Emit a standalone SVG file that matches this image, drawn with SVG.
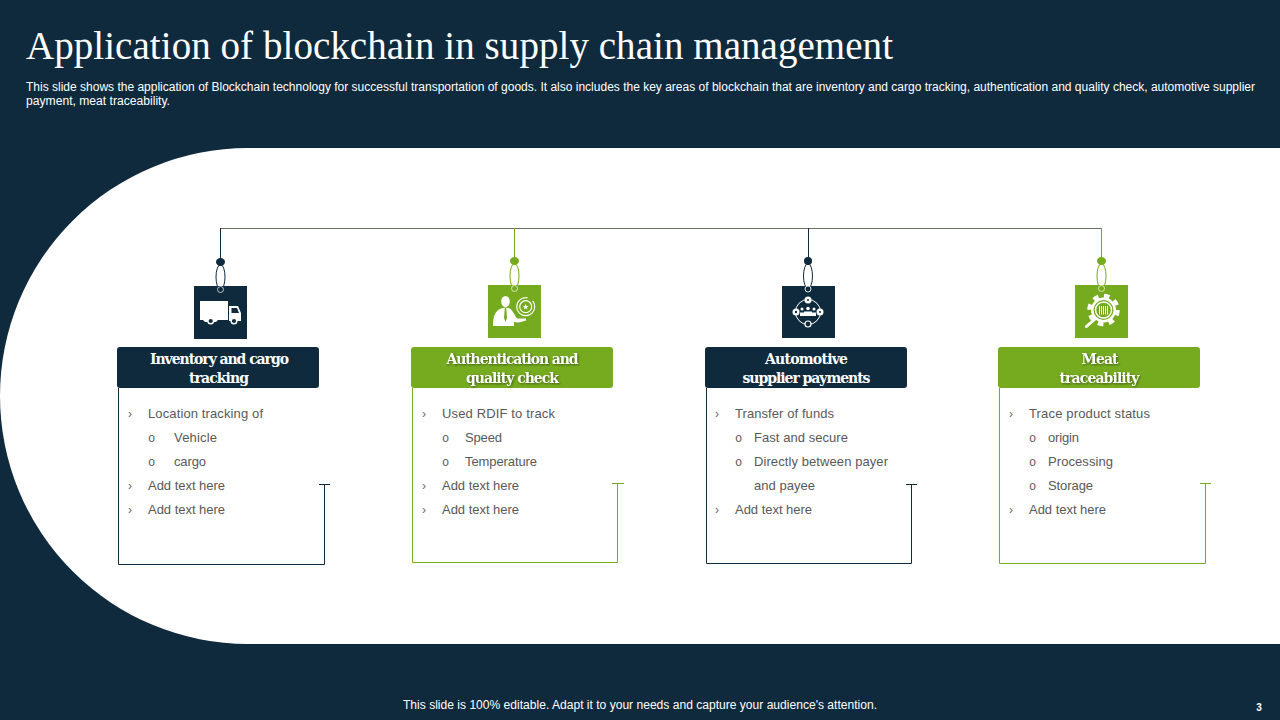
<svg xmlns="http://www.w3.org/2000/svg" width="1280" height="720" viewBox="0 0 1280 720">
<style>
.title{font:39px "Liberation Serif",serif;fill:#fff}
.desc{font:12px "Liberation Sans",Arial,sans-serif;fill:#fff}
.head{font:bold 14px "DejaVu Serif",serif;fill:#fff;text-anchor:middle}
.gh{filter:drop-shadow(1px 1px 1px rgba(0,0,0,.45))}
.b{font:13px "Liberation Sans",Arial,sans-serif;fill:#595959}
.m{font:12px "Liberation Sans",Arial,sans-serif;fill:#6a6a6a}
.o{font:12px "Liberation Mono",monospace;fill:#595959}
.navy{fill:#102a3d}.green{fill:#76ab1f}
.ln{fill:none;stroke-width:1}
.sn{stroke:#102a3d}.sg{stroke:#76ab1f}
.w{fill:#fff}.ws{fill:none;stroke:#fff}
</style>
<rect width="1280" height="720" fill="#102a3d"/>
<path d="M1280 148H248A248 248 0 0 0 248 644H1280Z" fill="#fff"/>
<text class="title" x="26" y="59" textLength="867" lengthAdjust="spacing">Application of blockchain in supply chain management</text>
<text class="desc" x="26" y="91" textLength="1229" lengthAdjust="spacingAndGlyphs">This slide shows the application of Blockchain technology for successful transportation of goods. It also includes the key areas of blockchain that are inventory and cargo tracking, authentication and quality check, automotive supplier</text>
<text class="desc" x="26" y="105" textLength="144" lengthAdjust="spacingAndGlyphs">payment, meat traceability.</text>

<g id="connectors">
<path d="M220.500 228.500H1101.500" fill="none" stroke="#66705c" stroke-width="1"/>
<path d="M220.500 228V262M808.500 228V261" class="ln sn"/>
<path d="M514.500 228V261M1101.500 228V261" class="ln sg"/>
</g>

<g id="node-inventory">
<rect class="navy" x="194" y="286" width="53" height="53"/>
<ellipse class="navy" cx="220.500" cy="262" rx="4.500" ry="4"/>
<ellipse class="ln sn" cx="220.500" cy="277" rx="4.500" ry="12.500"/>
<circle cx="220.500" cy="289.500" r="3" fill="none" stroke="#b8c4cc"/>
<path class="w" d="M200 301H228V320H218L216 322H205L203 320H200Z"/>
<path class="w" d="M229 306H238L241 313V321H229Z"/>
<path class="navy" d="M231.500 308H237L239 313H231.500Z"/>
<circle cx="210.700" cy="321" r="2.800" fill="#102a3d" stroke="#fff" stroke-width="1.400"/><circle cx="234" cy="321" r="2.800" fill="#102a3d" stroke="#fff" stroke-width="1.400"/>
<rect class="navy" x="117" y="347" width="202" height="41" rx="3"/>
<text class="head" x="219.500" y="364" textLength="139">Inventory and cargo</text>
<text class="head" x="219" y="383" textLength="60">tracking</text>
<path class="ln sn" d="M118.500 388V564.500H324.500V484.500M319 484.500H330"/>
<text class="m" x="128" y="418">›</text><text class="b" x="148" y="418" textLength="115">Location tracking of</text>
<text class="o" x="148" y="442">o</text><text class="b" x="174" y="442" textLength="43">Vehicle</text>
<text class="o" x="148" y="466">o</text><text class="b" x="174" y="466" textLength="32">cargo</text>
<text class="m" x="128" y="490">›</text><text class="b" x="148" y="490" textLength="77">Add text here</text>
<text class="m" x="128" y="514">›</text><text class="b" x="148" y="514" textLength="77">Add text here</text>
</g>

<g id="node-authentication">
<rect class="green" x="488" y="285" width="53" height="53"/>
<ellipse class="green" cx="514.500" cy="261" rx="4.500" ry="4"/>
<ellipse class="ln sg" cx="514.500" cy="276" rx="4.500" ry="12.500"/>
<circle cx="514.500" cy="288.500" r="3" fill="#76ab1f" stroke="#d6e6b8"/>
<ellipse class="w" cx="505.500" cy="301.500" rx="4.300" ry="5.500"/>
<path class="w" d="M493 326C493 316 495 311 501 308.500L505.500 307.500L510 308.500C513 311 515 316 517 318.500H526V320.500C521 322.500 517 323 514 322V326Z"/>
<path class="green" d="M504.800 308H506.200L507 318L505.500 322L504 318Z"/>
<circle class="ws" cx="525.700" cy="306.700" r="9" stroke-width="1.200" stroke-dasharray="44 6"/>
<circle class="ws" cx="525.700" cy="306.700" r="6" stroke-width="1.200"/>
<path class="w" d="M525.700 303.700L526.500 305.900H528.700L527 307.300L527.600 309.500L525.700 308.200L523.800 309.500L524.400 307.300L522.700 305.900H524.900Z"/>
<rect class="green" x="411" y="347" width="202" height="41" rx="3"/>
<text class="head gh" x="512.500" y="364" textLength="132">Authentication and</text>
<text class="head gh" x="512.500" y="383" textLength="93">quality check</text>
<path class="ln sg" d="M412.500 388V562.500H617.500V483.500M612 483.500H624"/>
<text class="m" x="422" y="418">›</text><text class="b" x="442" y="418" textLength="113">Used RDIF to track</text>
<text class="o" x="442" y="442">o</text><text class="b" x="465" y="442" textLength="37">Speed</text>
<text class="o" x="442" y="466">o</text><text class="b" x="465" y="466" textLength="72">Temperature</text>
<text class="m" x="422" y="490">›</text><text class="b" x="442" y="490" textLength="77">Add text here</text>
<text class="m" x="422" y="514">›</text><text class="b" x="442" y="514" textLength="77">Add text here</text>
</g>

<g id="node-automotive">
<rect class="navy" x="782" y="286" width="53" height="52"/>
<ellipse class="navy" cx="808" cy="261" rx="4" ry="4"/>
<ellipse class="ln sn" cx="808" cy="276" rx="4.500" ry="12.500"/>
<circle cx="808" cy="289" r="3" fill="none" stroke="#dfe5e9"/>
<circle class="ws" cx="808" cy="312" r="12.500" stroke-width="1"/>
<circle cx="808" cy="300" r="3.500" fill="#fff"/><circle cx="796" cy="312" r="3.500" fill="#fff"/><circle cx="820" cy="312" r="3.500" fill="#fff"/>
<circle class="navy" cx="808" cy="300" r="1"/><circle class="navy" cx="796" cy="312" r="1.200"/><circle class="navy" cx="820" cy="312" r="1"/>
<circle cx="808" cy="324" r="3" fill="#102a3d" stroke="#fff" stroke-width="1.200"/>
<circle class="w" cx="802" cy="309" r="1.500"/><circle class="w" cx="808" cy="308.500" r="1.800"/><circle class="w" cx="814" cy="309" r="1.500"/>
<path class="w" d="M800 316V312.500H804V311.500H812V312.500H816V316Z"/>
<rect class="navy" x="705" y="347" width="202" height="41" rx="3"/>
<text class="head" x="806.500" y="364" textLength="83">Automotive</text>
<text class="head" x="806.500" y="383" textLength="128">supplier payments</text>
<path class="ln sn" d="M706.500 388V563.500H911.500V484.500M906 484.500H917"/>
<text class="m" x="715" y="418">›</text><text class="b" x="735" y="418" textLength="99">Transfer of funds</text>
<text class="o" x="735" y="442">o</text><text class="b" x="754" y="442" textLength="94">Fast and secure</text>
<text class="o" x="735" y="466">o</text><text class="b" x="754" y="466" textLength="134">Directly between payer</text>
<text class="b" x="754" y="490" textLength="61">and payee</text>
<text class="m" x="715" y="514">›</text><text class="b" x="735" y="514" textLength="77">Add text here</text>
</g>

<g id="node-meat">
<rect class="green" x="1075" y="285" width="53" height="53"/>
<ellipse class="green" cx="1101.500" cy="261" rx="4.500" ry="4"/>
<ellipse class="ln sg" cx="1101.500" cy="276" rx="4.500" ry="12.500"/>
<circle cx="1101.500" cy="288.500" r="3" fill="#76ab1f" stroke="#d6e6b8"/>
<circle cx="1103.500" cy="310" r="14" fill="none" stroke="#fff" stroke-width="4.500" stroke-dasharray="5.500 5.500"/>
<circle cx="1103.500" cy="310" r="12.500" fill="#fff"/>
<circle class="green" cx="1103.500" cy="310" r="10"/>
<circle class="ws" cx="1103.500" cy="310" r="8" stroke-width="1.500"/>
<path d="M1099.500 306V314.500M1101.500 306V314.500M1103.500 306V314.500M1105.500 306V314.500M1107.500 306V314.500" stroke="#fff" fill="none"/>
<path d="M1095 319L1086.500 326.500" stroke="#fff" stroke-width="3" stroke-linecap="round"/>
<rect class="green" x="998" y="347" width="202" height="41" rx="3"/>
<text class="head gh" x="1100" y="364" textLength="37">Meat</text>
<text class="head gh" x="1099.500" y="383" textLength="80">traceability</text>
<path class="ln sg" d="M999.500 388V563.500H1205.500V483.500M1200 483.500H1211"/>
<text class="m" x="1009" y="418">›</text><text class="b" x="1029" y="418" textLength="121">Trace product status</text>
<text class="o" x="1029" y="442">o</text><text class="b" x="1048" y="442" textLength="31">origin</text>
<text class="o" x="1029" y="466">o</text><text class="b" x="1048" y="466" textLength="65">Processing</text>
<text class="o" x="1029" y="490">o</text><text class="b" x="1048" y="490" textLength="45">Storage</text>
<text class="m" x="1009" y="514">›</text><text class="b" x="1029" y="514" textLength="77">Add text here</text>
</g>

<text class="desc" x="640" y="708.500" text-anchor="middle" textLength="474" lengthAdjust="spacingAndGlyphs">This slide is 100% editable. Adapt it to your needs and capture your audience's attention.</text>
<text x="1259" y="711" font-family="Liberation Sans, Arial, sans-serif" font-size="10" font-weight="bold" fill="#fff" text-anchor="middle">3</text>
</svg>
